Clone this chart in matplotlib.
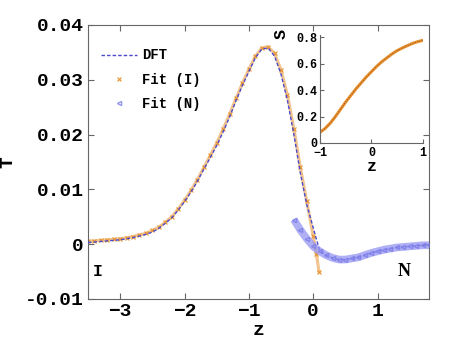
import numpy as np
import matplotlib
matplotlib.use('Agg')
import matplotlib.pyplot as plt
from matplotlib.ticker import FuncFormatter

# DFT curve T(z)
z_dft = [-3.5, -3.4, -3.3, -3.2, -3.1, -3.0, -2.9, -2.8, -2.7, -2.6, -2.5, -2.4,
         -2.3, -2.2, -2.1, -2.0, -1.9, -1.8, -1.7, -1.6, -1.5, -1.4, -1.3, -1.2,
         -1.1, -1.0, -0.9, -0.8, -0.7, -0.6, -0.5, -0.4, -0.3, -0.2, -0.1, 0.0,
         0.1, 0.2, 0.3, 0.4, 0.5, 0.6, 0.7, 0.8, 0.9, 1.0, 1.1, 1.2, 1.3, 1.4,
         1.5, 1.6, 1.7, 1.8]
t_dft = [0.0003, 0.0004, 0.0005, 0.0006, 0.0007, 0.0008, 0.0010, 0.0012, 0.0015,
         0.0018, 0.0022, 0.0029, 0.0038, 0.0048, 0.0062, 0.0078, 0.0095, 0.0115,
         0.0137, 0.0158, 0.0180, 0.0205, 0.0232, 0.0262, 0.0290, 0.0315, 0.0340,
         0.0356, 0.0358, 0.0343, 0.0310, 0.0262, 0.0200, 0.0130, 0.0072, 0.0030,
         -0.0012, -0.0020, -0.0025, -0.0028, -0.0028, -0.0026, -0.0024, -0.0020,
         -0.0016, -0.0013, -0.0010, -0.0008, -0.0006, -0.0005, -0.0004, -0.0003,
         -0.0002, -0.0002]

# Fit (I)
z_fit_i = [-3.5, -3.4, -3.3, -3.2, -3.1, -3.0, -2.9, -2.8, -2.7, -2.6, -2.5, -2.4,
           -2.3, -2.2, -2.1, -2.0, -1.9, -1.8, -1.7, -1.6, -1.5, -1.4, -1.3, -1.2,
           -1.1, -1.0, -0.9, -0.8, -0.7, -0.6, -0.5, -0.4, -0.3, -0.2, -0.1, 0.0,
           0.05, 0.09]
t_fit_i = [0.0005, 0.0006, 0.0007, 0.0008, 0.0009, 0.0010, 0.0012, 0.0014, 0.0017,
           0.0020, 0.0025, 0.0031, 0.0040, 0.0050, 0.0064, 0.0080, 0.0098, 0.0118,
           0.0140, 0.0162, 0.0185, 0.0210, 0.0237, 0.0266, 0.0294, 0.0319, 0.0343,
           0.0358, 0.0360, 0.0348, 0.0318, 0.0272, 0.0210, 0.0140, 0.0078, 0.0015,
           -0.0018, -0.0050]

# Fit (N)
z_fit_n = [-0.3, -0.2, -0.1, 0.0, 0.1, 0.2, 0.3, 0.4, 0.5, 0.6, 0.7, 0.8, 0.9, 1.0,
           1.1, 1.2, 1.3, 1.4, 1.5, 1.6, 1.7, 1.8]
t_fit_n = [0.0045, 0.0026, 0.0010, -0.0004, -0.0013, -0.0020, -0.0025, -0.0028,
           -0.0028, -0.0026, -0.0024, -0.0020, -0.0016, -0.0013, -0.0010, -0.0008,
           -0.0006, -0.0005, -0.0004, -0.0003, -0.0002, -0.0002]

# inset S(z)
z_s = [-1.0, -0.9, -0.8, -0.7, -0.6, -0.5, -0.4, -0.3, -0.2, -0.1, 0.0, 0.1, 0.2,
       0.3, 0.4, 0.5, 0.6, 0.7, 0.8, 0.9, 1.0]
s_val = [0.08, 0.11, 0.15, 0.20, 0.255, 0.31, 0.36, 0.41, 0.455, 0.50, 0.54, 0.58,
         0.615, 0.645, 0.675, 0.70, 0.72, 0.738, 0.755, 0.768, 0.778]

mono = 'Liberation Mono'
orange = '#e8922e'
lblue = '#9494f2'
dblue = '#4a4ad0'

fig = plt.figure(figsize=(4.74, 3.38), dpi=100)
ax = fig.add_axes([0.1857, 0.1154, 0.7194, 0.8107])

ax.plot(z_fit_i, t_fit_i, color=orange, lw=2.2, alpha=0.55, zorder=2)
ax.plot(z_fit_i, t_fit_i, ls='none', marker='x', ms=3, mew=0.8, color=orange,
        label='Fit (I)', zorder=2)
ax.plot(z_dft, t_dft, color=dblue, lw=1.0, ls=(0, (2.5, 1.5)), label='DFT', zorder=3)
ax.plot(z_fit_n, t_fit_n, color=lblue, lw=5.5, alpha=0.75, solid_capstyle='butt', zorder=4)
ax.plot(z_fit_n, t_fit_n, ls='none', marker='<', ms=3, mfc='none', mec='#7c7ce8',
        alpha=0.8, label='Fit (N)', zorder=5)

ax.set_xlim(-3.5, 1.8)
ax.set_ylim(-0.01, 0.04)
ax.set_xticks([-3, -2, -1, 0, 1])
ax.set_yticks([-0.01, 0, 0.01, 0.02, 0.03, 0.04])
ax.yaxis.set_major_formatter(FuncFormatter(lambda v, p: '0' if abs(v) < 1e-9 else '%.2f' % v))
ax.tick_params(direction='in', length=4, width=0.8, color='#666666', top=True, right=True,
               labelsize=14, pad=3)
for lab in ax.get_xticklabels() + ax.get_yticklabels():
    lab.set_fontfamily(mono)
    lab.set_fontweight('bold')
for s in ax.spines.values():
    s.set_color('#666666')
    s.set_linewidth(0.8)

ax.set_xlabel('z', family=mono, weight='bold', fontsize=14, labelpad=1)
ax.set_ylabel('T', family=mono, weight='bold', fontsize=14, labelpad=6)

ax.text(-3.42, -0.005, 'I', family=mono, weight='bold', fontsize=12, va='center')
ax.text(1.31, -0.005, 'N', family='Liberation Serif', weight='bold', fontsize=13,
        va='center')

h, l = ax.get_legend_handles_labels()
order = [1, 0, 2]
ax.legend([h[i] for i in order], [l[i] for i in order], loc='upper left',
          bbox_to_anchor=(0.0, 0.96), frameon=False, handlelength=2.6,
          handletextpad=0.4, labelspacing=0.75,
          prop={'family': mono, 'weight': 'bold', 'size': 10})

ins = fig.add_axes([0.675, 0.577, 0.217, 0.32])
ins.plot(z_s, s_val, color=orange, lw=2.2)
ins.plot(z_s, s_val, color='#a05020', lw=0.6, ls=(0, (1.5, 1.5)))
ins.set_xlim(-1, 1)
ins.set_ylim(0, 0.82)
ins.set_xticks([-1, 0, 1])
ins.set_yticks([0, 0.2, 0.4, 0.6, 0.8])
ins.yaxis.set_major_formatter(FuncFormatter(lambda v, p: '0' if abs(v) < 1e-9 else '%.1f' % v))
ins.spines['top'].set_visible(False)
ins.spines['right'].set_visible(False)
for s in ['left', 'bottom']:
    ins.spines[s].set_color('#666666')
    ins.spines[s].set_linewidth(0.8)
ins.tick_params(direction='in', length=3, width=0.8, color='#666666', labelsize=8.5, pad=1.5)
ins.tick_params(axis='x', pad=3)
for lab in ins.get_xticklabels() + ins.get_yticklabels():
    lab.set_fontfamily(mono)
    lab.set_fontweight('bold')
ins.set_xlabel('z', family=mono, weight='bold', fontsize=12, labelpad=0)
ins.set_ylabel('S', family=mono, weight='bold', fontsize=12)
ins.yaxis.set_label_coords(-0.3, 1.01)

fig.savefig('out.png', dpi=100)
